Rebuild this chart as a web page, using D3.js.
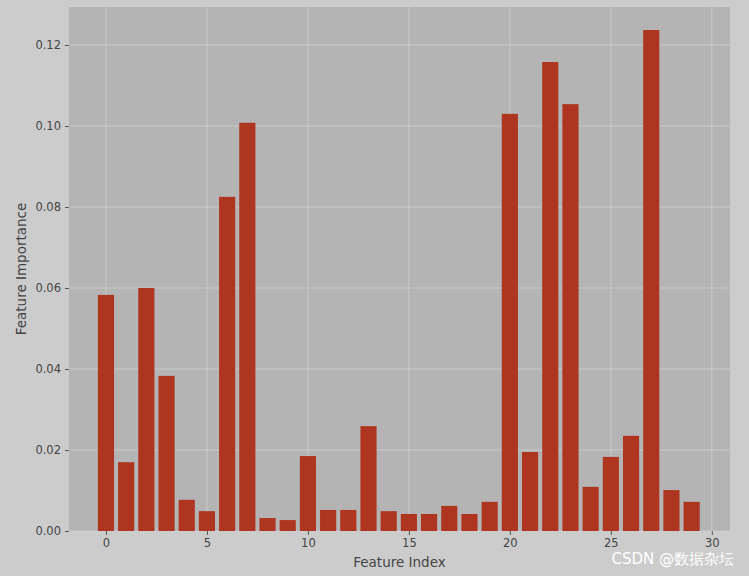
<!DOCTYPE html>
<html>
<head>
<meta charset="utf-8">
<script src="https://cdn.jsdelivr.net/npm/d3@7"></script>
<style>
  body { margin: 0; background: #cccccc; }
  text { font-family: "DejaVu Sans", sans-serif; }
</style>
</head>
<body>
<svg id="chart" width="749" height="576"></svg>
<script>
// feature importances
const featureIndex = d3.range(30);
const importance = [
  0.0583, 0.0170, 0.0600, 0.0383, 0.0077, 0.0049, 0.0825, 0.1008, 0.0032, 0.0027,
  0.0185, 0.0052, 0.0052, 0.0259, 0.0049, 0.0042, 0.0042, 0.0062, 0.0042, 0.0072,
  0.1030, 0.0195, 0.1158, 0.1054, 0.0109, 0.0183, 0.0235, 0.1237, 0.0101, 0.0072
];
const xTicks = [0, 5, 10, 15, 20, 25, 30];
const yTicks = [0, 0.02, 0.04, 0.06, 0.08, 0.10, 0.12];

const svg = d3.select('#chart');
const plotL = 69, plotR = 730, plotT = 7, plotB = 531;

const x = d3.scaleLinear().domain([-1.83, 30.9]).range([plotL, plotR]);
const y = d3.scaleLinear().domain([0, 0.12]).range([plotB, 45]);

svg.append('rect')
  .attr('x', plotL).attr('y', plotT)
  .attr('width', plotR - plotL).attr('height', plotB - plotT)
  .attr('fill', '#b4b4b4');

// grid
svg.append('g').selectAll('line').data(xTicks).join('line')
  .attr('x1', d => x(d)).attr('x2', d => x(d))
  .attr('y1', plotT).attr('y2', plotB)
  .attr('stroke', '#d0d0d0').attr('stroke-width', 0.8);
svg.append('g').selectAll('line').data(yTicks).join('line')
  .attr('x1', plotL).attr('x2', plotR)
  .attr('y1', d => y(d)).attr('y2', d => y(d))
  .attr('stroke', '#d0d0d0').attr('stroke-width', 0.8);

// bars
const bw = x(0.8) - x(0);
svg.append('g').selectAll('rect').data(featureIndex).join('rect')
  .attr('x', d => x(d) - bw / 2)
  .attr('y', d => y(importance[d]))
  .attr('width', bw)
  .attr('height', d => plotB - y(importance[d]))
  .attr('fill', '#ae3621');

// axes
const xAxis = d3.axisBottom(x).tickValues(xTicks).tickSize(4).tickPadding(4);
const yAxis = d3.axisLeft(y).tickValues(yTicks).tickFormat(d3.format('.2f')).tickSize(4).tickPadding(4);

const gx = svg.append('g').attr('transform', `translate(0,${plotB})`).call(xAxis);
const gy = svg.append('g').attr('transform', `translate(${plotL},0)`).call(yAxis);
[gx, gy].forEach(g => {
  g.select('.domain').remove();
  g.selectAll('line').attr('stroke', '#555');
  g.selectAll('text').attr('fill', '#444').attr('font-size', 11.5);
});

svg.append('text')
  .attr('x', (plotL + plotR) / 2).attr('y', 567)
  .attr('text-anchor', 'middle').attr('font-size', 13.5).attr('fill', '#444')
  .text('Feature Index');
svg.append('text')
  .attr('transform', `translate(26,${(plotT + plotB) / 2}) rotate(-90)`)
  .attr('text-anchor', 'middle').attr('font-size', 13.5).attr('fill', '#444')
  .text('Feature Importance');

svg.append('text')
  .attr('x', 734).attr('y', 564)
  .attr('text-anchor', 'end').attr('font-size', 15).attr('fill', '#ffffff')
  .attr('font-family', '"Noto Sans CJK SC", sans-serif')
  .text('CSDN @数据杂坛');
</script>
</body>
</html>
